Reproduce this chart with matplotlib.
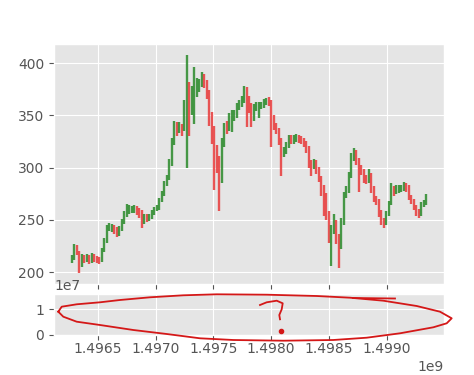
import numpy as np
import matplotlib
matplotlib.use("Agg")
import matplotlib.pyplot as plt
from matplotlib.lines import Line2D

# ---- data (6-hour candles) ----
start_time = 1496275200          # epoch seconds of first candle
candle_seconds = 21600
first_open = 211
closes = [213, 225, 218, 208, 214, 212, 214, 211, 215, 213, 212, 211, 221, 230, 242, 243,
          243, 241, 237, 241, 248, 256, 260, 261, 261, 261, 259, 257, 248, 254, 251, 253,
          257, 260, 261, 269, 275, 285, 290, 305, 325, 341, 337, 340, 337, 360, 378, 358,
          372, 378, 378, 380, 388, 381, 372, 350, 338, 318, 305, 290, 325, 340, 338, 349,
          351, 351, 359, 362, 366, 375, 367, 360, 348, 358, 360, 360, 360, 363, 364, 363,
          348, 340, 336, 326, 314, 316, 322, 328, 326, 328, 329, 327, 326, 324, 319, 304,
          302, 304, 299, 290, 278, 274, 255, 234, 240, 248, 232, 225, 248, 275, 279, 293,
          310, 315, 307, 299, 297, 290, 288, 293, 280, 271, 268, 257, 249, 248, 256, 266,
          278, 277, 279, 280, 280, 283, 281, 272, 268, 262, 258, 256, 265, 266, 272]
highs = [216, 227, 226, 220, 217, 216, 217, 216, 218, 217, 215, 214, 223, 233, 245, 247,
         246, 245, 243, 244, 251, 258, 265, 264, 263, 264, 263, 261, 259, 256, 256, 256,
         259, 262, 264, 271, 278, 287, 293, 308, 328, 345, 344, 344, 342, 365, 408, 382,
         378, 396, 386, 385, 392, 390, 384, 374, 353, 340, 322, 311, 328, 343, 345, 352,
         355, 355, 362, 365, 369, 378, 377, 369, 362, 361, 363, 363, 363, 366, 367, 368,
         365, 350, 343, 338, 328, 320, 325, 331, 331, 331, 332, 331, 330, 328, 326, 321,
         307, 308, 307, 301, 292, 283, 276, 258, 245, 256, 250, 236, 252, 277, 282, 296,
         314, 319, 317, 309, 303, 299, 293, 299, 295, 282, 273, 270, 259, 252, 258, 268,
         285, 282, 283, 283, 283, 286, 285, 283, 274, 270, 264, 260, 267, 269, 275]
lows = [209, 212, 216, 199, 205, 209, 210, 208, 209, 210, 209, 208, 210, 219, 228, 239,
        238, 236, 234, 235, 239, 246, 253, 256, 257, 257, 255, 252, 242, 246, 248, 249,
        251, 255, 258, 259, 267, 273, 282, 288, 302, 322, 330, 333, 330, 335, 300, 330,
        350, 342, 368, 372, 377, 376, 366, 340, 323, 279, 295, 258, 285, 320, 332, 335,
        334, 345, 348, 355, 358, 362, 339, 352, 339, 345, 354, 348, 356, 357, 360, 359,
        320, 336, 332, 322, 292, 310, 313, 319, 323, 323, 325, 324, 323, 320, 314, 300,
        292, 299, 294, 286, 273, 254, 250, 228, 206, 236, 227, 204, 222, 245, 271, 276,
        290, 306, 303, 277, 293, 285, 284, 285, 276, 267, 264, 253, 245, 242, 245, 254,
        264, 273, 275, 276, 277, 278, 277, 269, 265, 259, 254, 252, 254, 262, 264]
opens = [first_open] + closes[:-1]
times = start_time + candle_seconds * np.arange(len(closes))

x_ticks = [1.4965e9, 1.4970e9, 1.4975e9, 1.4980e9, 1.4985e9, 1.4990e9]
price_ticks = [200, 250, 300, 350, 400]
volume_ticks = [0, 1e7]
volume_axis_max = 1.6e7

# hand-drawn red annotation (pixel coordinates of the reference image)
loop_px = [(58.3, 311.7), (61.7, 306.7), (76.7, 304.3), (100, 302.3), (120, 300),
           (150, 297.3), (183.3, 295.3), (216.7, 294.3), (266.7, 294.7), (316.7, 296),
           (350, 297.7), (383.3, 300.7), (416.7, 306), (440, 311.7), (451.7, 318.3),
           (446.7, 323.3), (433.3, 327.3), (400, 333.3), (366.7, 337.7), (333.3, 340),
           (283.3, 340.7), (233.3, 340), (200, 338.3), (166.7, 334), (133.3, 330),
           (100, 325), (76.7, 321.7), (63.3, 316.7), (58.3, 311.7)]
stroke_px = [(353, 298), (395, 298.5)]
question_px = [(260, 305), (266.7, 302.3), (276.7, 300.7), (282.7, 303.3),
               (281.7, 309.3), (279.3, 315), (280, 319.3)]
dot_px = (280.7, 330.7)

# ---- figure ----
plt.style.use("ggplot")
W, H = 474, 375
fig = plt.figure(figsize=(W / 100, H / 100), dpi=100)
ax1 = fig.add_axes([54 / W, 1 - 284 / H, 390 / W, 240 / H])
ax2 = fig.add_axes([54 / W, 1 - 335 / H, 390 / W, 41 / H], sharex=ax1)

colors = ["#2a8a2a" if c >= o else "#e83a3a" for o, c in zip(opens, closes)]
ax1.vlines(times, lows, highs, colors=colors, linewidth=1.7, alpha=0.85)
ax1.set_yticks(price_ticks)
ax1.tick_params(labelbottom=False)

ax2.set_ylim(0, volume_axis_max)
ax2.set_yticks(volume_ticks)
ax2.set_xticks(x_ticks)
ax2.ticklabel_format(axis="x", useOffset=False)

for ax in (ax1, ax2):
    ax.tick_params(labelsize=10, colors="#555555")
ax2.tick_params(axis="x", pad=1.5)

def to_fig(pts):
    a = np.array(pts, dtype=float)
    return a[:, 0] / W, 1 - a[:, 1] / H

red = "#d41818"
for pts in (loop_px, stroke_px, question_px):
    fx, fy = to_fig(pts)
    fig.add_artist(Line2D(fx, fy, transform=fig.transFigure, color=red, lw=1.3))
fx, fy = to_fig([dot_px])
fig.add_artist(Line2D(fx, fy, transform=fig.transFigure, color=red, marker="o",
                      markersize=3, linestyle="none"))

fig.savefig("out.png", dpi=100)
